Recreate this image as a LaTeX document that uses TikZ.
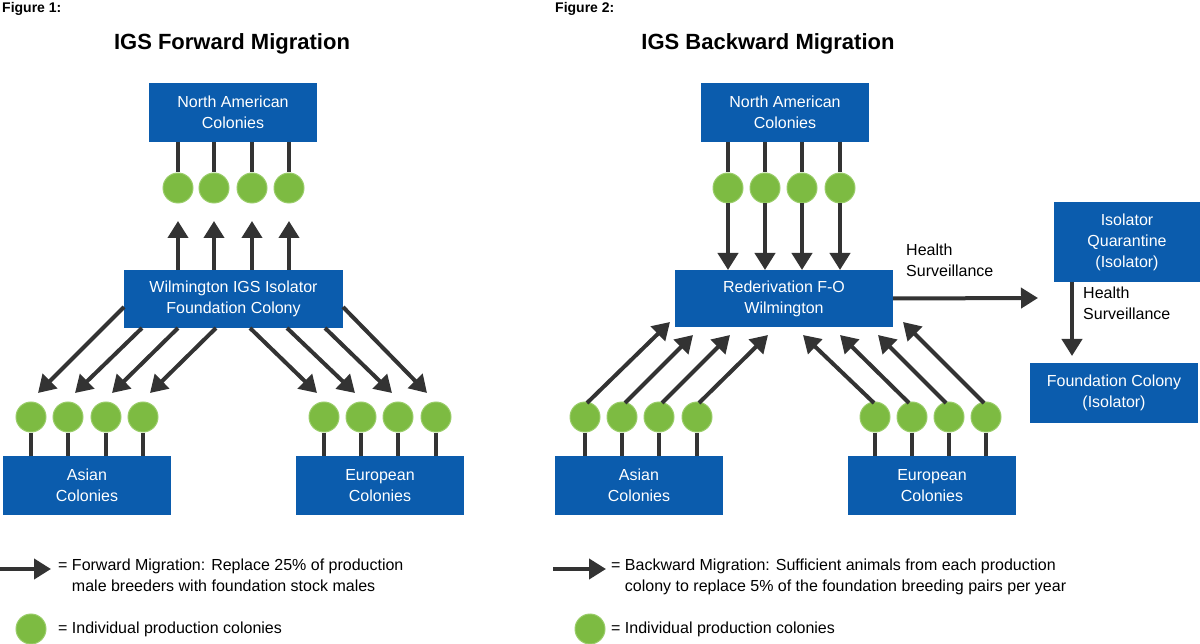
\documentclass[tikz,border=0pt]{standalone}
\usepackage{fontspec}
\setmainfont{Liberation Sans}
\usetikzlibrary{arrows.meta}
\definecolor{bx}{HTML}{0B5CAD}
\definecolor{gr}{HTML}{7DBB42}
\definecolor{grs}{HTML}{9ACD6A}
\definecolor{ar}{HTML}{333333}
\begin{document}
\begin{tikzpicture}[x=1pt,y=-1pt,
 box/.style={fill=bx,text=white,font=\fontsize{16}{21}\selectfont,align=center,inner sep=0pt},
 dot/.style={circle,fill=gr,draw=grs,line width=1pt,minimum size=30pt,inner sep=0pt},
 stem/.style={draw=ar,line width=4pt},
 arr/.style={draw=ar,line width=4pt,-{Triangle[width=20pt,length=17pt]}},
 lbl/.style={font=\fontsize{16}{21}\selectfont,align=left,anchor=north west,inner sep=0pt},
 ttl/.style={font=\bfseries\fontsize{22}{26}\selectfont},
 fig/.style={font=\bfseries\fontsize{14}{17}\selectfont,anchor=north west,inner sep=0pt}]
\useasboundingbox (0,0) rectangle (1200,644);
% Figure 1
\node[fig] (f1) at (2,2) {Figure 1:};
\node[ttl] (t1) at (232,44) {IGS Forward Migration};
\node[box,minimum width=168pt,minimum height=59pt] (na1) at (233,112.5) {North American\\Colonies};
\node[box,minimum width=219pt,minimum height=58pt] (w1) at (233.5,299) {Wilmington IGS Isolator\\Foundation Colony};
\node[box,minimum width=168pt,minimum height=59pt] (as1) at (87,485.5) {Asian\\Colonies};
\node[box,minimum width=168pt,minimum height=59pt] (eu1) at (380,485.5) {European\\Colonies};
\foreach \i/\x in {1/178,2/214,3/252,4/289}{
 \node[dot] (n\i) at (\x,188) {};
 \draw[stem] (\x,142) -- (n\i.north);
 \coordinate (u\i) at (\x,270);
 \coordinate (ut\i) at (\x,221);
 \draw[arr] (u\i) -- (ut\i);}
\foreach \i/\x in {1/31,2/68,3/106,4/143}{
 \node[dot] (a\i) at (\x,417) {};
 \draw[stem] (a\i.south) -- (\x,456);}
\foreach \i/\x in {1/324,2/361,3/398,4/436}{
 \node[dot] (e\i) at (\x,417) {};
 \draw[stem] (e\i.south) -- (\x,456);}
\foreach \sx/\sy/\tx/\ty in {124/307/38/393,142/328/75/393,178/328/112/393,216/328/150/393,
 250/328/317/393,287/328/355/393,325/328/392/393,343/307/427/393}{
 \coordinate (s) at (\sx,\sy); \coordinate (t) at (\tx,\ty);
 \draw[arr] (s) -- (t);}
% Figure 2
\node[fig] (f2) at (555,2) {Figure 2:};
\node[ttl] (t2) at (768,44) {IGS Backward Migration};
\node[box,minimum width=168pt,minimum height=59pt] (na2) at (785,112.5) {North American\\Colonies};
\node[box,minimum width=218pt,minimum height=57pt] (r2) at (784,298.5) {Rederivation F-O\\Wilmington};
\node[box,minimum width=168pt,minimum height=59pt] (as2) at (639,485.5) {Asian\\Colonies};
\node[box,minimum width=168pt,minimum height=59pt] (eu2) at (932,485.5) {European\\Colonies};
\node[box,minimum width=146pt,minimum height=80pt] (iq) at (1127,242) {Isolator\\Quarantine\\(Isolator)};
\node[box,minimum width=168pt,minimum height=60pt] (fc) at (1114,393) {Foundation Colony\\(Isolator)};
\foreach \i/\x in {1/728,2/765,3/802,4/840}{
 \node[dot] (m\i) at (\x,188) {};
 \draw[stem] (\x,142) -- (m\i.north);
 \coordinate (d\i) at (\x,270);
 \draw[arr] (m\i.south) -- (d\i);}
\foreach \i/\x in {1/585,2/622,3/659,4/697}{
 \node[dot] (b\i) at (\x,417) {};
 \draw[stem] (b\i.south) -- (\x,456);}
\foreach \i/\x in {1/875,2/912,3/949,4/986}{
 \node[dot] (c\i) at (\x,417) {};
 \draw[stem] (c\i.south) -- (\x,456);}
\foreach \sx/\sy/\tx/\ty in {587/403/670/322,625/403/693/335,662/403/730/335,699/403/768/335,
 874/403/803/335,909/403/840/335,946/403/878/335,984/403/903/322}{
 \coordinate (s) at (\sx,\sy); \coordinate (t) at (\tx,\ty);
 \draw[arr] (s) -- (t);}
\coordinate (h) at (1038,298);
\draw[arr] (r2.east) -- (h);
\node[lbl] (hs1) at (906,244) {Health\\Surveillance};
\coordinate (vs) at (1072,282); \coordinate (vt) at (1072,356);
\draw[arr] (vs) -- (vt);
\node[lbl] (hs2) at (1083,287) {Health\\Surveillance};
% Legends
\coordinate (l1s) at (0,569); \coordinate (l1t) at (51,569);
\draw[arr] (l1s) -- (l1t);
\node[lbl] (lt1) at (58,559) {= Forward Migration: Replace 25\% of production\\\hphantom{= }male breeders with foundation stock males};
\node[dot] (ld1) at (31,629) {};
\node[lbl,anchor=west] (lt2) at (58,629) {= Individual production colonies};
\coordinate (l2s) at (553,569); \coordinate (l2t) at (606,569);
\draw[arr] (l2s) -- (l2t);
\node[lbl] (lt3) at (611,559) {= Backward Migration: Sufficient animals from each production\\\hphantom{= }colony to replace 5\% of the foundation breeding pairs per year};
\node[dot] (ld2) at (590,629) {};
\node[lbl,anchor=west] (lt4) at (611,629) {= Individual production colonies};
\end{tikzpicture}
\end{document}
